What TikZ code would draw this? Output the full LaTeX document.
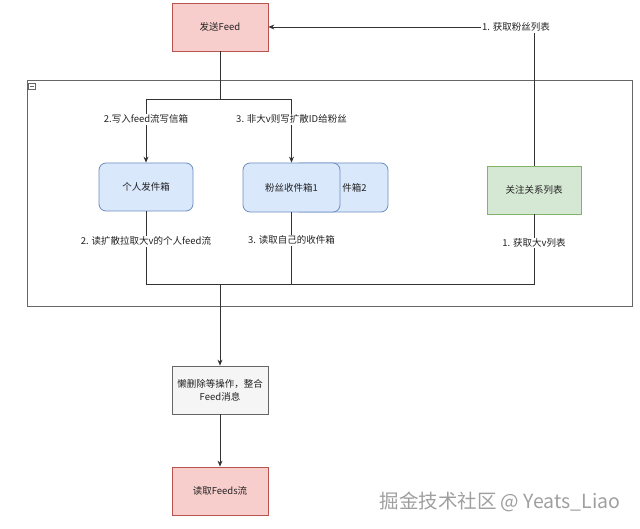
\documentclass[tikz,border=0pt]{standalone}
\usepackage{fontspec}
\setmainfont{Noto Sans CJK SC}
\usetikzlibrary{arrows.meta}
\definecolor{pinkfill}{HTML}{F8CECC}
\definecolor{pinkdraw}{HTML}{B85450}
\definecolor{bluefill}{HTML}{DAE8FC}
\definecolor{bluedraw}{HTML}{6C8EBF}
\definecolor{greenfill}{HTML}{D5E8D4}
\definecolor{greendraw}{HTML}{82B366}
\definecolor{grayfill}{HTML}{F5F5F5}
\definecolor{graydraw}{HTML}{666666}
\definecolor{linec}{HTML}{333333}
\definecolor{txt}{HTML}{222222}
\begin{document}
\begin{tikzpicture}[x=1pt,y=-1pt,
  box/.style={draw, minimum width=94pt, minimum height=48pt, inner sep=0pt, align=center,
    line width=0.8pt, text=txt, font=\fontsize{9.5}{13}\selectfont},
  pinkbox/.style={box, fill=pinkfill, draw=pinkdraw},
  bluebox/.style={box, fill=bluefill, draw=bluedraw, rounded corners=7pt},
  greenbox/.style={box, fill=greenfill, draw=greendraw},
  graybox/.style={box, fill=grayfill, draw=graydraw},
  conn/.style={draw=linec, line width=0.8pt},
  arr/.style={conn, -{Stealth[length=6pt,width=5pt]}},
  lbl/.style={fill=white, inner sep=1pt, text=txt, font=\fontsize{9.5}{12}\selectfont}]
\useasboundingbox (0,0) rectangle (640,529);

% container
\node[draw=graydraw, line width=0.8pt, minimum width=605pt, minimum height=226pt, inner sep=0pt] (group) at (329.5,193) {};
\draw[graydraw, line width=0.5pt] (28.5,83.5) rectangle (35.5,89.5);
\draw[graydraw, line width=0.6pt] (30,86.5) -- (34,86.5);

% nodes
\node[pinkbox, minimum width=96pt] (send) at (220,27) {发送Feed};
\node[lbl] (lblfans) at (516,27) {1. 获取粉丝列表};
\node[bluebox] (outbox) at (146,187) {个人发件箱};
\node[bluebox, minimum width=95pt, minimum height=49pt] (inbox2) at (340.5,187.5) {\hspace*{28pt}件箱2};
\node[bluebox, minimum width=97pt, minimum height=49pt] (inbox1) at (291.5,187.5) {粉丝收件箱1};
\node[greenbox] (follow) at (534,190) {关注关系列表};
\node[graybox, minimum width=96pt] (lazy) at (220,390) {懒删除等操作，整合\\Feed消息};
\node[pinkbox, minimum width=96pt] (read) at (220,491) {读取Feeds流};
\node[text=gray!75, font=\fontsize{19.5}{22}\selectfont] (wm) at (500,502) {掘金技术社区 @ Yeats\_Liao};

% connectors top
\draw[arr] (lblfans.west) -- (send.east);
\draw[conn] (follow.north) -- (follow.north |- lblfans.south);
\coordinate (j1) at (220,99);
\draw[conn] (send.south) -- (j1);
\draw[arr] (j1) -| node[lbl, pos=0.66] {2.写入feed流写信箱} (outbox.north);
\draw[arr] (j1) -| node[lbl, pos=0.66] {3. 非大v则写扩散ID给粉丝} (inbox1.north);

% connectors bottom
\coordinate (bl) at (146,284);
\coordinate (br) at (534,284);
\coordinate (j2) at (220,284);
\draw[conn] (outbox.south) -- node[lbl, pos=0.41] {2. 读扩散拉取大v的个人feed流} (bl) -- (br)
  -- node[lbl, pos=0.59] {1. 获取大v列表} (follow.south);
\draw[conn] (inbox1.south) -- node[lbl, pos=0.39] {3. 读取自己的收件箱} (inbox1.south |- bl);
\draw[arr] (j2) -- (lazy.north);
\draw[arr] (lazy.south) -- (read.north);
\end{tikzpicture}
\end{document}
